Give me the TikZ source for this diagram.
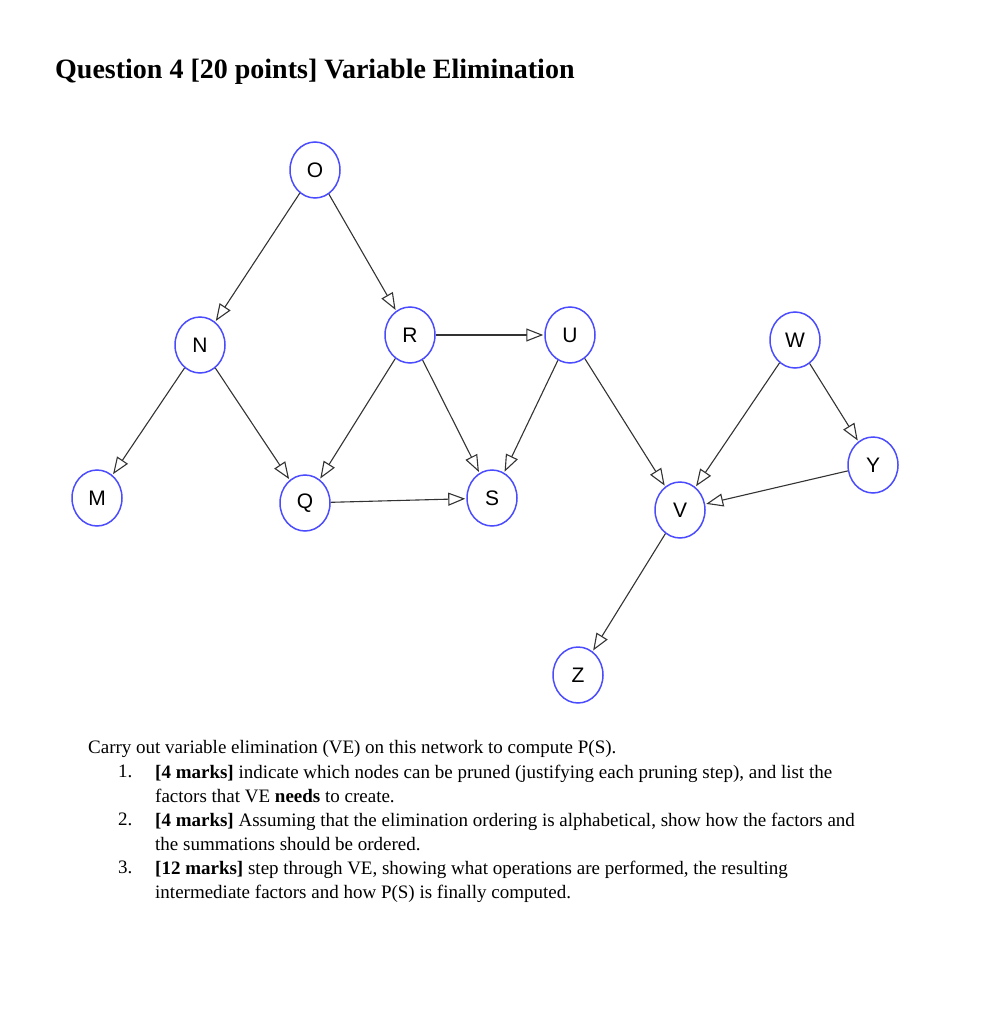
\documentclass[tikz,border=0pt]{standalone}
\usepackage{fontspec}
\setmainfont{Liberation Serif}
\newfontfamily\nodefont{Liberation Sans}
\usetikzlibrary{arrows.meta,shapes.geometric}
\begin{document}
\begin{tikzpicture}[x=1pt,y=-1pt,
  vnode/.style={ellipse,draw=blue!70!white,line width=1.5pt,fill=white,minimum width=50pt,minimum height=56pt,inner sep=0pt,font=\nodefont\fontsize{21}{21}\selectfont},
  edge/.style={draw=black!80,line width=1.1pt,-{Triangle[open,length=17pt,width=13pt,fill=white]},shorten >=1pt},
  body/.style={anchor=north west,inner sep=0pt,align=left,font=\fontsize{19}{24}\selectfont}]
\useasboundingbox (0,0) rectangle (994,1024);
\node[anchor=west,inner sep=0pt,font=\bfseries\fontsize{28}{28}\selectfont] (title) at (55,72) {Question 4 [20 points] Variable Elimination};
\node[vnode] (O) at (315,170) {O};
\node[vnode] (N) at (200,345) {N};
\node[vnode] (R) at (410,335) {R};
\node[vnode] (U) at (570,335) {U};
\node[vnode] (W) at (795,340) {W};
\node[vnode] (M) at (97,498) {M};
\node[vnode] (Q) at (305,503) {Q};
\node[vnode] (S) at (492,498) {S};
\node[vnode] (V) at (680,510) {V};
\node[vnode] (Y) at (873,465) {Y};
\node[vnode] (Z) at (578,675) {Z};
\foreach \a/\b in {O/N,O/R,N/M,N/Q,R/Q,R/S,R/U,U/S,U/V,Q/S,W/V,W/Y,Y/V,V/Z}
  \draw[edge] (\a) -- (\b);
\node[body] (intro) at (88,740) {Carry out variable elimination (VE) on this network to compute P(S).};
\node[body] (n1) at (118,765) {1.};
\node[body] (t1) at (155,765) {\textbf{[4 marks]} indicate which nodes can be pruned (justifying each pruning step), and list the\\ factors that VE \textbf{needs} to create.};
\node[body] (n2) at (118,813) {2.};
\node[body] (t2) at (155,813) {\textbf{[4 marks]} Assuming that the elimination ordering is alphabetical, show how the factors and\\ the summations should be ordered.};
\node[body] (n3) at (118,861) {3.};
\node[body] (t3) at (155,861) {\textbf{[12 marks]} step through VE, showing what operations are performed, the resulting\\ intermediate factors and how P(S) is finally computed.};
\end{tikzpicture}
\end{document}
